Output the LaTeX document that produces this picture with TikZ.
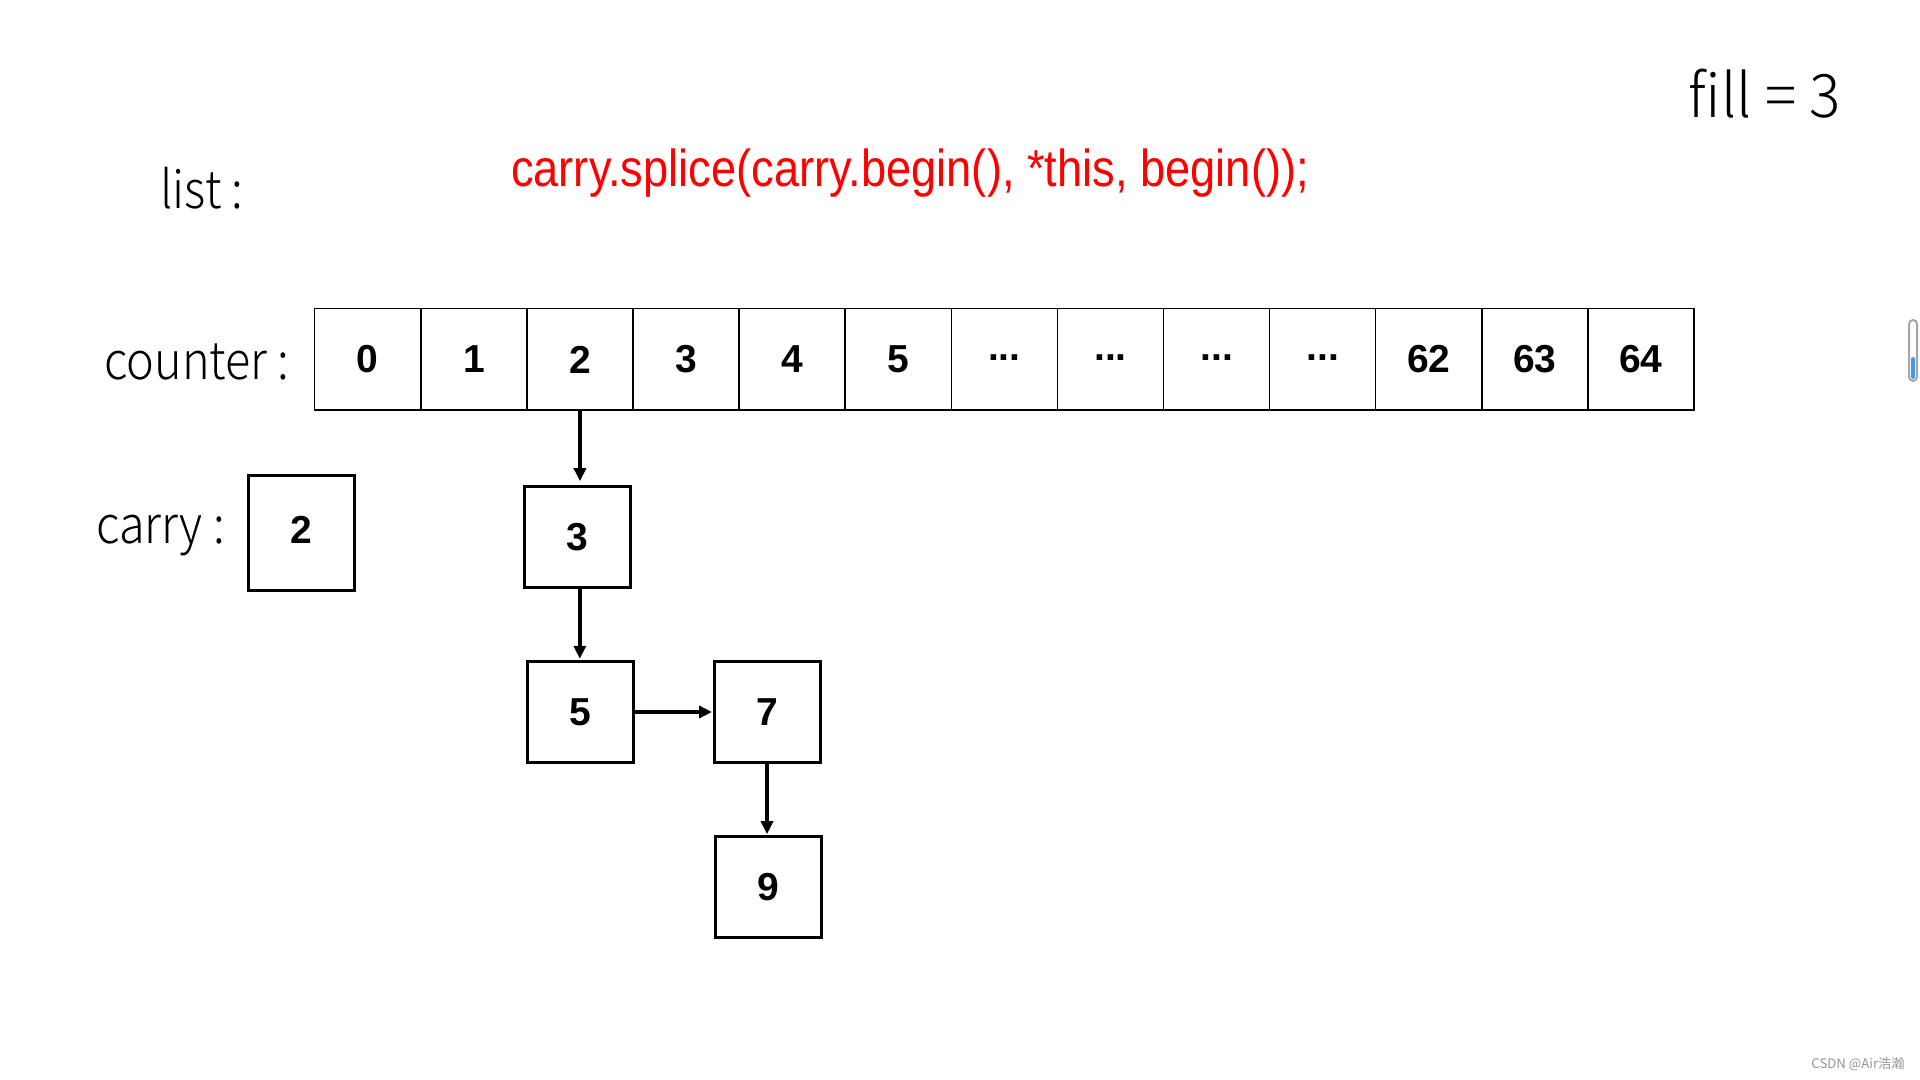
\documentclass[tikz,border=0pt]{standalone}
\usepackage{fontspec}
\usepackage{graphicx}
\setmainfont{Liberation Sans}
\newfontfamily\cjkfont{Noto Sans CJK SC}
\IfFontExistsTF{Noto Sans CJK SC Light}
  {\newfontfamily\thinfont{Noto Sans CJK SC Light}\newcommand{\thinsq}{0.9}}
  {\newfontfamily\thinfont{Liberation Sans}\newcommand{\thinsq}{0.8}}
\usetikzlibrary{arrows.meta}
\definecolor{codered}{RGB}{255,0,0}
\definecolor{wmgray}{RGB}{150,150,150}
\definecolor{barblue}{RGB}{70,150,245}
\newcommand{\mdots}{\raisebox{0.11em}{...}}
\begin{document}
\begin{tikzpicture}[x=0.5pt,y=-0.5pt,
  cell/.style={draw, line width=0.75pt, minimum width=53.05pt, minimum height=50.8pt,
    inner sep=0pt, outer sep=0pt, font=\fontsize{19.5}{24}\selectfont\bfseries},
  listbox/.style={draw, line width=1.5pt, inner sep=0pt, outer sep=0pt,
    minimum width=53pt, minimum height=50.8pt, font=\fontsize{19.5}{24}\selectfont\bfseries},
  lbl/.style={inner sep=0pt, font=\thinfont\fontsize{26}{30}\selectfont},
  link/.style={line width=2pt, -{Triangle[length=6.5pt,width=6pt]}}]
\useasboundingbox (0,0) rectangle (1920,1080);
\fill[white] (0,0) rectangle (1920,1080);

% labels
\node[lbl] (listlbl) at (202,188) {\scalebox{\thinsq}[1]{list :}};
\node[lbl] (counterlbl) at (197,362) {\scalebox{\thinsq}[1]{counter :}};
\node[lbl] (carrylbl) at (160.5,536) {\scalebox{\thinsq}[1]{carry :}};
\node[inner sep=0pt, text=codered, font=\fontsize{26}{30}\selectfont] (code) at (910,172.6)
  {\scalebox{0.87}[1]{carry.splice(carry.begin(), *this, begin());}};
\node[lbl, font=\thinfont\fontsize{30}{34}\selectfont] (fill) at (1764.5,94)
  {\scalebox{0.97}[1]{fill = 3}};

% counter array
\foreach \t [count=\i from 0] in {0,1,2,3,4,5,\mdots,\mdots,\mdots,\mdots,62,63,64}{
  \node[cell] (c\i) at ({314.7+106.1*(\i+0.5)},359.4) {\t};
}

% carry
\node[listbox, minimum height=57.5pt] (carry) at (301.8,532.5) {\raisebox{3pt}{2}};

% list nodes
\node[listbox] (b3) at (577.8,537) {3};
\node[listbox] (b5) at (580.4,712) {5};
\node[listbox] (b7) at (767,712) {7};
\node[listbox] (b9) at (768.3,887) {9};

% links
\draw[link, shorten >=2.5pt] (c2.south) -- (c2.south |- b3.north);
\draw[link, shorten >=1.2pt] ([xshift=1pt]b3.south) -- ([xshift=1pt]b3.south |- b5.north);
\draw[link, shorten >=1pt] (b5.east) -- (b7.west);
\draw[link, shorten >=1pt] (b7.south) -- (b7.south |- b9.north);

% scrollbar artifact
\draw[line width=1pt, draw=gray!70, fill=white, rounded corners=2pt] (1909,320) rectangle (1917,381);
\fill[barblue, rounded corners=1pt] (1911,357) rectangle (1915,379);

% watermark
\node[inner sep=0pt, anchor=east, text=wmgray, font=\cjkfont\fontsize{6.6}{8}\selectfont] (wm) at (1905,1064) {CSDN @Air浩瀚};
\end{tikzpicture}
\end{document}
